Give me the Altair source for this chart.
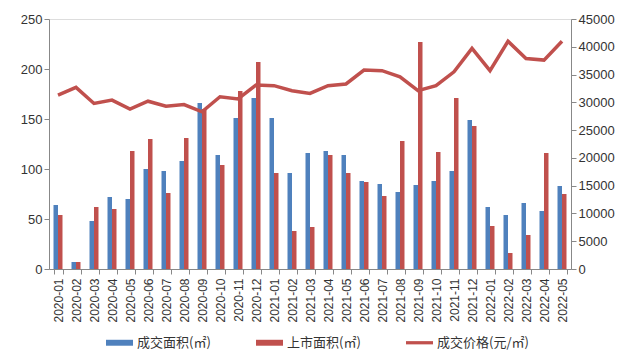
import altair as alt
import pandas as pd

months = ["2020-01","2020-02","2020-03","2020-04","2020-05","2020-06","2020-07","2020-08","2020-09","2020-10","2020-11","2020-12",
          "2021-01","2021-02","2021-03","2021-04","2021-05","2021-06","2021-07","2021-08","2021-09","2021-10","2021-11","2021-12",
          "2022-01","2022-02","2022-03","2022-04","2022-05"]
deal_area = [64, 7, 48, 72, 70, 100, 98, 108, 166, 114, 151, 171,
             151, 96, 116, 118, 114, 88, 85, 77, 84, 88, 98, 149,
             62, 54, 66, 58, 83]
listed_area = [54, 7, 62, 60, 118, 130, 76, 131, 160, 104, 178, 207,
               96, 38, 42, 114, 96, 87, 73, 128, 227, 117, 171, 143,
               43, 16, 34, 116, 75]
price = [31300, 32700, 29800, 30400, 28800, 30200, 29300, 29600, 28300, 31000, 30600, 33100,
         33000, 32100, 31600, 33000, 33300, 35800, 35700, 34600, 32100, 33000, 35500, 39700,
         35700, 41000, 37900, 37600, 41000]

s1 = "成交面积(㎡)"
s2 = "上市面积(㎡)"
s3 = "成交价格(元/㎡)"
blue = "#4F81BD"
red = "#C0504D"

bars_df = pd.DataFrame(
    [{"month": m, "series": s1, "value": v} for m, v in zip(months, deal_area)]
    + [{"month": m, "series": s2, "value": v} for m, v in zip(months, listed_area)]
)
line_df = pd.DataFrame({"month": months, "series": s3, "price": price})

font = "Liberation Sans"
cjk = "Noto Sans CJK SC"

legend = alt.Legend(
    title=None, orient="none", direction="horizontal", legendX=57, legendY=310,
    labelFont=cjk, labelFontSize=13, labelColor="#333333",
    symbolSize=729, symbolStrokeWidth=0, symbolOpacity=1,
    columnPadding=45, labelOffset=4,
)
color = alt.Color("series:N", scale=alt.Scale(domain=[s1, s2, s3], range=[blue, red, red]), legend=legend)
shape = alt.Shape("series:N",
                  scale=alt.Scale(domain=[s1, s2, s3],
                                  range=["M-1,-0.22H1V0.22H-1Z", "M-1,-0.22H1V0.22H-1Z", "M-1,-0.12H1V0.12H-1Z"]),
                  legend=legend)

x = alt.X(
    "month:N", sort=months, title=None,
    scale=alt.Scale(paddingInner=0.5, paddingOuter=0.25),
    axis=alt.Axis(labelAngle=-90, labelFont=font, labelFontSize=12, labelColor="#333333",
                  tickBand="extent", domainColor="#888888", tickColor="#888888", tickSize=5, labelPadding=4),
)

bars = alt.Chart(bars_df).mark_bar().encode(
    x=x,
    xOffset=alt.XOffset("series:N", sort=[s1, s2], scale=alt.Scale(paddingInner=0, paddingOuter=0)),
    y=alt.Y("value:Q", title=None, scale=alt.Scale(domain=[0, 250], nice=False),
            axis=alt.Axis(values=[0, 50, 100, 150, 200, 250], grid=False, labelFont=font, labelFontSize=13,
                          labelColor="#333333", domainColor="#888888", tickColor="#888888", tickSize=5)),
    color=color,
)

y_price = alt.Y("price:Q", title=None, scale=alt.Scale(domain=[0, 45000], nice=False),
                axis=alt.Axis(orient="right", values=list(range(0, 45001, 5000)), format="d", grid=False,
                              labelFont=font, labelFontSize=13, labelColor="#333333",
                              domainColor="#888888", tickColor="#888888", tickSize=5))

line = alt.Chart(line_df).mark_line(strokeWidth=3.5).encode(x=x, y=y_price, color=color)
pts = alt.Chart(line_df).mark_point(filled=True, opacity=0).encode(x=x, y=y_price, color=color, shape=shape)

chart = alt.layer(bars, alt.layer(line, pts)).resolve_scale(y="independent").properties(
    width=522, height=250,
    padding={"left": 12, "top": 5, "right": 5, "bottom": 5},
).configure_view(stroke=None).configure(background="white")

chart.save("out.html", embed_options={"renderer": "svg", "actions": False})
